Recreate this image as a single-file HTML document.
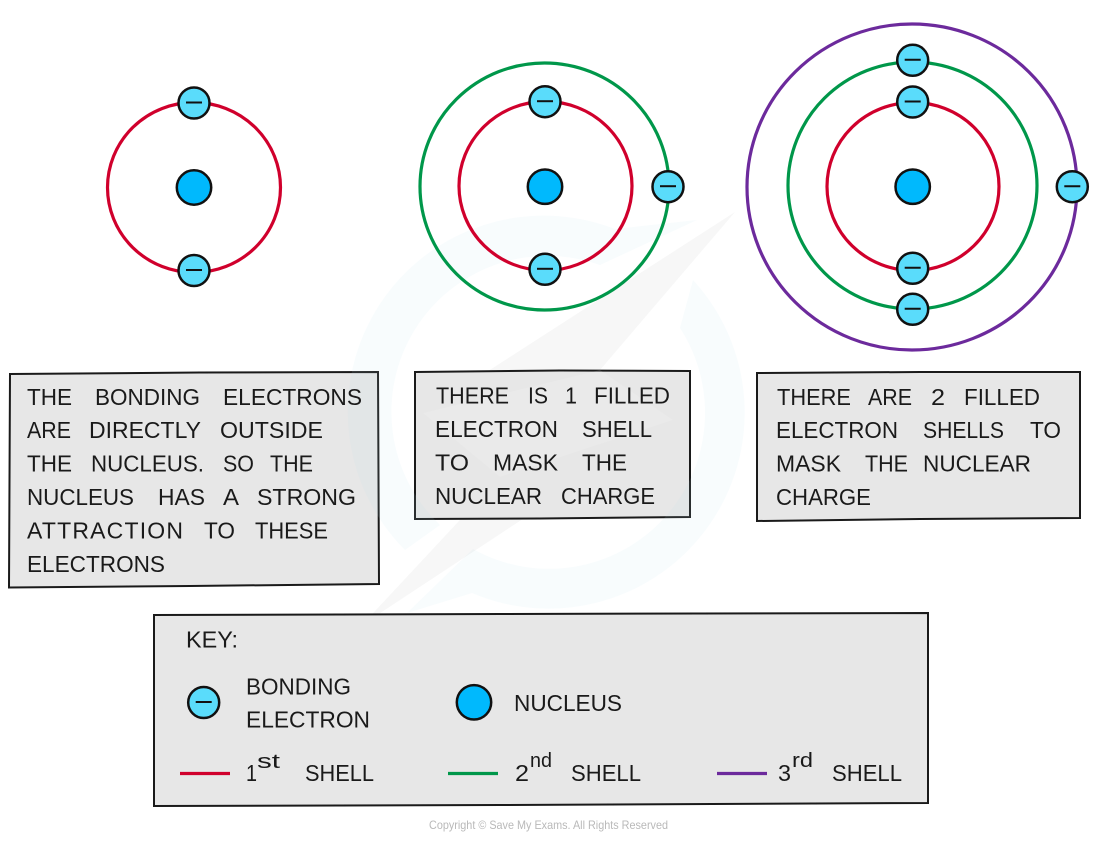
<!DOCTYPE html>
<html><head><meta charset="utf-8"><style>
html,body{margin:0;padding:0;background:#fff;width:1100px;height:844px;overflow:hidden}
svg{display:block}
text{font-family:"Liberation Sans",sans-serif;font-size:23px;fill:#1a1a1a}
text.u{font-size:20px}
.box{fill:#e7e7e7;stroke:#1a1a1a;stroke-width:2}
.s{fill:none;stroke-width:3.2}
.r{stroke:#d0002c}.g{stroke:#00974a}.p{stroke:#6c2a9c}
.e{fill:#5adcfb;stroke:#111;stroke-width:2.5}
.n{fill:#00b9fd;stroke:#111;stroke-width:2.5}
.m{stroke:#111;stroke-width:2;fill:none}
</style></head><body>
<svg width="1100" height="844" viewBox="0 0 1100 844" xmlns="http://www.w3.org/2000/svg">
<defs><g id="el"><circle r="15.5" class="e"/><path d="M-8 -0.500H8" class="m"/></g></defs>
<!-- watermark bolt -->
<path d="M735 212L600 370L673 420L362 625L500 477L423 413Z" fill="#f7f7f7"/>

<!-- boxes -->
<path class="box" d="M10 374L200 372.500L378 372L379 584L190 586L9 587.500Z"/>
<path class="box" d="M415 372L560 370.500L690 371L690 517L540 518.500L415 519Z"/>
<path class="box" d="M757 373L920 372L1080 372L1080 518L920 519L757 521Z"/>

<!-- watermark tints, beneath lines and text -->
<g fill="#bee6f0" fill-opacity="0.1">
<path d="M405 550A196 196 0 0 1 615 229L697 220L600 265A156 156 0 0 0 440 525Z"/>
<path d="M693 280A196 196 0 0 1 472 593L407 613L473 549A156 156 0 0 0 680 328Z"/>
</g>
<path d="M600 370L673 420L500 477L423 413Z" fill="#fff" fill-opacity="0.12"/>

<!-- atom 1 -->
<ellipse class="s r" cx="194" cy="187.500" rx="86.500" ry="85"/>
<use href="#el" x="194" y="103"/><use href="#el" x="194" y="270.500"/>
<circle cx="194" cy="187.500" r="17.200" class="n"/>

<!-- atom 2 -->
<ellipse class="s r" cx="545.500" cy="186" rx="86.500" ry="84.500"/>
<ellipse class="s g" cx="544.500" cy="186.500" rx="124.500" ry="123.500"/>
<use href="#el" x="545" y="101.700"/><use href="#el" x="545" y="269.300"/><use href="#el" x="668" y="186.700"/>
<circle cx="545" cy="186.700" r="17.200" class="n"/>

<!-- atom 3 -->
<ellipse class="s r" cx="913" cy="186.500" rx="86" ry="84"/>
<ellipse class="s g" cx="912.500" cy="185.500" rx="124.500" ry="123.500"/>
<ellipse class="s p" cx="912" cy="187" rx="165" ry="163"/>
<use href="#el" x="912.700" y="60.300"/><use href="#el" x="912.700" y="102"/><use href="#el" x="912.700" y="268.300"/><use href="#el" x="912.700" y="309.300"/><use href="#el" x="1072.300" y="186.700"/>
<circle cx="912.700" cy="186.700" r="17.200" class="n"/>

<!-- box 1 text -->
<text x="27" y="405" textLength="45" lengthAdjust="spacingAndGlyphs">THE</text>
<text x="95" y="405" textLength="105" lengthAdjust="spacingAndGlyphs">BONDING</text>
<text x="223" y="405" textLength="139" lengthAdjust="spacingAndGlyphs">ELECTRONS</text>
<text x="27" y="438" textLength="44" lengthAdjust="spacingAndGlyphs">ARE</text>
<text x="89" y="438" textLength="112" lengthAdjust="spacingAndGlyphs">DIRECTLY</text>
<text x="220" y="438" textLength="103" lengthAdjust="spacingAndGlyphs">OUTSIDE</text>
<text x="27" y="471.500" textLength="45" lengthAdjust="spacingAndGlyphs">THE</text>
<text x="91" y="471.500" textLength="113" lengthAdjust="spacingAndGlyphs">NUCLEUS.</text>
<text x="223" y="471.500" textLength="31" lengthAdjust="spacingAndGlyphs">SO</text>
<text x="270" y="471.500" textLength="43" lengthAdjust="spacingAndGlyphs">THE</text>
<text x="27" y="505" textLength="107" lengthAdjust="spacingAndGlyphs">NUCLEUS</text>
<text x="158" y="505" textLength="47" lengthAdjust="spacingAndGlyphs">HAS</text>
<text x="223" y="505" textLength="16" lengthAdjust="spacingAndGlyphs">A</text>
<text x="257" y="505" textLength="99" lengthAdjust="spacingAndGlyphs">STRONG</text>
<text x="27" y="538.500" textLength="156">ATTRACTION</text>
<text x="204" y="538.500" textLength="31" lengthAdjust="spacingAndGlyphs">TO</text>
<text x="255" y="538.500" textLength="73" lengthAdjust="spacingAndGlyphs">THESE</text>
<text x="27" y="572" textLength="138" lengthAdjust="spacingAndGlyphs">ELECTRONS</text>

<!-- box 2 text -->
<text x="436" y="403.500" textLength="73" lengthAdjust="spacingAndGlyphs">THERE</text>
<text x="528" y="403.500" textLength="20" lengthAdjust="spacingAndGlyphs">IS</text>
<text x="565" y="403.500" textLength="12" lengthAdjust="spacingAndGlyphs">1</text>
<text x="594" y="403.500" textLength="76" lengthAdjust="spacingAndGlyphs">FILLED</text>
<text x="435" y="437" textLength="123" lengthAdjust="spacingAndGlyphs">ELECTRON</text>
<text x="582" y="437" textLength="70" lengthAdjust="spacingAndGlyphs">SHELL</text>
<text x="435" y="470.500" textLength="34" lengthAdjust="spacingAndGlyphs">TO</text>
<text x="493" y="470.500" textLength="65" lengthAdjust="spacingAndGlyphs">MASK</text>
<text x="582" y="470.500" textLength="45" lengthAdjust="spacingAndGlyphs">THE</text>
<text x="435" y="504" textLength="107" lengthAdjust="spacingAndGlyphs">NUCLEAR</text>
<text x="561" y="504" textLength="94" lengthAdjust="spacingAndGlyphs">CHARGE</text>

<!-- box 3 text -->
<text x="777" y="405" textLength="74" lengthAdjust="spacingAndGlyphs">THERE</text>
<text x="868" y="405" textLength="44" lengthAdjust="spacingAndGlyphs">ARE</text>
<text x="931" y="405" textLength="14" lengthAdjust="spacingAndGlyphs">2</text>
<text x="964" y="405" textLength="76" lengthAdjust="spacingAndGlyphs">FILLED</text>
<text x="776" y="438" textLength="122" lengthAdjust="spacingAndGlyphs">ELECTRON</text>
<text x="923" y="438" textLength="81" lengthAdjust="spacingAndGlyphs">SHELLS</text>
<text x="1030" y="438" textLength="31" lengthAdjust="spacingAndGlyphs">TO</text>
<text x="776" y="471.500" textLength="65" lengthAdjust="spacingAndGlyphs">MASK</text>
<text x="865" y="471.500" textLength="43" lengthAdjust="spacingAndGlyphs">THE</text>
<text x="923" y="471.500" textLength="108" lengthAdjust="spacingAndGlyphs">NUCLEAR</text>
<text x="776" y="505" textLength="95" lengthAdjust="spacingAndGlyphs">CHARGE</text>

<!-- key -->
<path class="box" d="M154 615L500 614L928 613L928 803L500 805L154 806Z"/>
<text x="186" y="647.500" textLength="52" lengthAdjust="spacingAndGlyphs">KEY:</text>
<use href="#el" x="203.700" y="702.500"/>
<text x="246" y="694.500" textLength="105" lengthAdjust="spacingAndGlyphs">BONDING</text>
<text x="246" y="727.500" textLength="124" lengthAdjust="spacingAndGlyphs">ELECTRON</text>
<circle cx="474" cy="702.300" r="17.200" class="n"/>
<text x="514" y="711" textLength="108" lengthAdjust="spacingAndGlyphs">NUCLEUS</text>
<path d="M180 773.500H230" class="s r"/>
<path d="M448 773.500H498" class="s g"/>
<path d="M717 773.500H767" class="s p"/>
<text x="246" y="781" textLength="11" lengthAdjust="spacingAndGlyphs">1</text>
<text class="u" x="257" y="768" textLength="23" lengthAdjust="spacingAndGlyphs">st</text>
<text x="305" y="781" textLength="69" lengthAdjust="spacingAndGlyphs">SHELL</text>
<text x="515" y="781" textLength="14" lengthAdjust="spacingAndGlyphs">2</text>
<text class="u" x="530" y="767" textLength="22" lengthAdjust="spacingAndGlyphs">nd</text>
<text x="571" y="781" textLength="70" lengthAdjust="spacingAndGlyphs">SHELL</text>
<text x="778" y="781" textLength="13" lengthAdjust="spacingAndGlyphs">3</text>
<text class="u" x="792" y="767" textLength="21" lengthAdjust="spacingAndGlyphs">rd</text>
<text x="832" y="781" textLength="70" lengthAdjust="spacingAndGlyphs">SHELL</text>

<text x="429" y="829" textLength="239" lengthAdjust="spacingAndGlyphs" style="font-size:12px;fill:#b9b9b9">Copyright © Save My Exams. All Rights Reserved</text>
</svg>
</body></html>
